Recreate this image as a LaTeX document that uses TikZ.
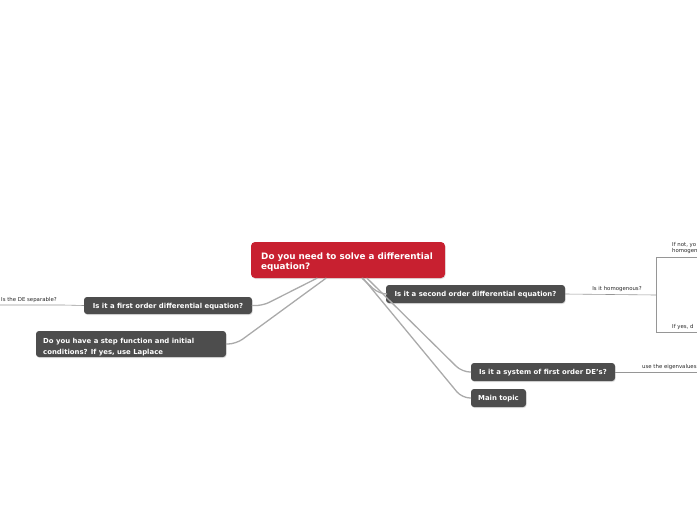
\documentclass[tikz,border=0pt]{standalone}
\usepackage{fontspec}
\setmainfont{DejaVu Sans}
\usetikzlibrary{shadows}
\definecolor{mmred}{RGB}{200,32,48}
\definecolor{mmgray}{RGB}{77,77,77}
\definecolor{mmline}{RGB}{170,170,170}
\definecolor{mmsub}{RGB}{150,150,150}
\definecolor{mmtext}{RGB}{40,40,40}
\tikzset{
  x=1pt, y=-1pt,
  topic/.style={fill=mmgray, text=white, rounded corners=3pt, font=\bfseries\fontsize{6.9}{8}\selectfont,
    inner sep=0pt, minimum height=18pt, align=center, text depth=0pt,
    drop shadow={opacity=0.25, shadow xshift=0.6pt, shadow yshift=-1pt}},
  central/.style={fill=mmred, rounded corners=4pt, inner sep=0pt, minimum height=36pt,
    drop shadow={opacity=0.25, shadow xshift=0.6pt, shadow yshift=-1pt}},
  ctext/.style={text=white, font=\bfseries\fontsize{8.8}{10.5}\selectfont, inner sep=0pt, align=left, anchor=base west},
  stext/.style={text=white, font=\bfseries\fontsize{6.9}{11}\selectfont, inner sep=0pt, align=left, anchor=base west},
  branch/.style={draw=mmline, line width=1.3pt, rounded corners=8pt, line cap=round},
  subline/.style={draw=mmsub, line width=0.6pt},
  lab/.style={font=\fontsize{5.4}{6.2}\selectfont, text=mmtext, inner sep=0pt, align=left},
}
\begin{document}
\begin{tikzpicture}
\useasboundingbox (0,0) rectangle (697,520);
\clip (0,0) rectangle (697,520);

\coordinate (sepend) at (0,305);
\coordinate (homo) at (656,295);
\coordinate (ntop) at (656,257);
\coordinate (nbot) at (656,332);
\coordinate (ntopend) at (697,257);
\coordinate (nbotend) at (697,332);
\coordinate (eigend) at (697,372);

\node[central, minimum width=194pt] (c) at (348,260) {};
\node[ctext] (ctxt) at (261,269.5) {Do you need to solve a differential\\equation?};
\node[topic, minimum width=168pt, minimum height=17pt] (first) at (168,305.5) {Is it a first order differential equation?};
\node[topic, minimum width=190pt, minimum height=26pt] (step) at (131,344) {};
\node[stext] (steptxt) at (43,354) {Do you have a step function and initial\\conditions? If yes, use Laplace};
\node[topic, minimum width=179pt] (second) at (475.5,294) {Is it a second order differential equation?};
\node[topic, minimum width=144pt] (system) at (543,372) {Is it a system of first order DE's?};
\node[topic, minimum width=55pt] (main) at (498.5,398) {Main topic};

\draw[branch] ([xshift=-31pt]c.south) -- (262,306) -- (first.east);
\draw[branch] ([xshift=-22pt]c.south) -- (236,344) -- (step.east);
\draw[branch] ([xshift=14pt]c.south) -- (379,294) -- (second.west);
\draw[branch] ([xshift=19pt]c.south) -- (462,372) -- (system.west);
\draw[branch] ([xshift=15pt]c.south) -- (462,398) -- (main.west);

\draw[subline, rounded corners=4pt] (first.west) -- (64,305) -- (sepend);
\node[lab, anchor=south west] (sep) at (1,303) {Is the DE separable?};

\draw[subline] (second.east) -- (homo);
\node[lab, anchor=south] (homolab) at (617,292) {Is it homogenous?};
\draw[subline] (ntopend) -- (ntop) -- (nbot) -- (nbotend);
\node[lab, anchor=south west] (notlab) at (672,254) {If not, yo\\homogen};
\node[lab, anchor=south west] (yeslab) at (672,330) {If yes, d};

\draw[subline] (system.east) -- (eigend);
\node[lab, anchor=south west] (eig) at (642,370) {use the eigenvalues};
\end{tikzpicture}
\end{document}
